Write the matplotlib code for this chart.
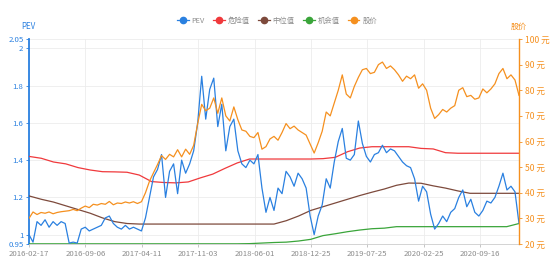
import numpy as np
import matplotlib
matplotlib.use("Agg")
import matplotlib.pyplot as plt
from matplotlib.lines import Line2D

plt.rcParams['font.family'] = ['Noto Sans CJK SC', 'DejaVu Sans']

# ---------------- data ----------------
n_days = 1174
tick_step = 135
date_labels = ["2016-02-17", "2016-09-06", "2017-04-11", "2017-11-03", "2018-06-01",
               "2018-12-25", "2019-07-25", "2020-02-25", "2020-09-16"]

pev = [1.00, 0.96, 1.07, 1.05, 1.08, 1.04, 1.07, 1.05, 1.07, 1.06,
       0.955, 0.96, 0.955, 1.03, 1.04, 1.02, 1.03, 1.04, 1.05, 1.09,
       1.10, 1.06, 1.04, 1.03, 1.05, 1.03, 1.04, 1.03, 1.02, 1.09,
       1.20, 1.31, 1.35, 1.43, 1.20, 1.34, 1.38, 1.22, 1.40, 1.33,
       1.38, 1.45, 1.60, 1.85, 1.62, 1.78, 1.84, 1.58, 1.70, 1.45,
       1.58, 1.62, 1.45, 1.38, 1.36, 1.40, 1.38, 1.43, 1.25, 1.12,
       1.20, 1.13, 1.25, 1.22, 1.34, 1.31, 1.26, 1.33, 1.30, 1.25,
       1.10, 1.00, 1.10, 1.16, 1.30, 1.25, 1.39, 1.50, 1.57, 1.41,
       1.40, 1.43, 1.61, 1.49, 1.42, 1.39, 1.43, 1.44, 1.48, 1.44,
       1.46, 1.45, 1.42, 1.39, 1.37, 1.36, 1.30, 1.18, 1.26, 1.23,
       1.11, 1.03, 1.06, 1.10, 1.07, 1.12, 1.14, 1.20, 1.24, 1.15,
       1.19, 1.12, 1.10, 1.13, 1.18, 1.17, 1.20, 1.26, 1.33, 1.24,
       1.26, 1.23, 1.06]

price = [30.0, 32.5, 31.5, 32.3, 32.0, 32.5, 31.8, 32.3, 32.6, 32.8,
         33.0, 33.5, 33.0, 34.0, 34.8, 34.2, 35.5, 35.2, 35.8, 35.5,
         36.6, 35.3, 36.0, 35.8, 36.4, 36.0, 36.5, 35.8, 36.5, 40.0,
         44.5, 47.8, 51.0, 54.5, 53.0, 55.0, 54.0, 56.8, 54.0, 57.0,
         55.0, 58.5, 67.0, 74.5, 72.0, 73.0, 77.0, 71.0, 77.0, 70.0,
         68.0, 73.5, 68.5, 64.5, 64.0, 62.0, 61.5, 63.5, 57.0, 58.0,
         61.0, 62.0, 60.5, 63.5, 67.0, 65.0, 66.0, 64.5, 63.5, 62.5,
         59.0, 55.5, 59.5, 64.0, 71.5, 70.0, 75.0, 80.0, 86.0, 78.5,
         77.0, 81.5, 85.0, 88.0, 88.5, 86.5, 87.0, 90.0, 91.0, 88.5,
         89.5, 88.0, 86.0, 83.5, 85.5, 84.5, 86.0, 80.8, 82.5, 80.0,
         73.0, 69.0, 70.5, 72.5, 71.5, 73.0, 74.0, 80.0, 81.0, 77.5,
         78.0, 76.5, 77.0, 80.5, 79.0, 80.5, 82.5, 86.5, 88.5, 84.5,
         86.0, 84.0, 78.0]

danger = [1.42, 1.41, 1.39, 1.38, 1.36, 1.347, 1.338, 1.337, 1.335, 1.32,
          1.285, 1.28, 1.278, 1.283, 1.305, 1.325, 1.356, 1.385, 1.406, 1.406,
          1.406, 1.406, 1.406, 1.406, 1.408, 1.415, 1.445, 1.465, 1.472, 1.472,
          1.472, 1.472, 1.463, 1.46, 1.44, 1.437, 1.437, 1.437, 1.437, 1.437,
          1.437]

median = [1.208, 1.19, 1.175, 1.155, 1.135, 1.115, 1.09, 1.07, 1.06, 1.057,
          1.057, 1.057, 1.057, 1.057, 1.057, 1.057, 1.057, 1.057, 1.057, 1.057,
          1.057, 1.075, 1.10, 1.13, 1.15, 1.17, 1.19, 1.21, 1.228, 1.245,
          1.265, 1.277, 1.276, 1.262, 1.25, 1.235, 1.222, 1.222, 1.222, 1.222,
          1.222]

chance = [0.951, 0.951, 0.951, 0.951, 0.951, 0.951, 0.951, 0.951, 0.951, 0.951,
          0.951, 0.951, 0.951, 0.951, 0.951, 0.951, 0.951, 0.951, 0.952, 0.955,
          0.958, 0.96, 0.966, 0.975, 0.995, 1.005, 1.016, 1.025, 1.032, 1.035,
          1.043, 1.043, 1.043, 1.043, 1.043, 1.043, 1.043, 1.043, 1.043, 1.043,
          1.06]

pev_ticks = [0.95, 1.0, 1.2, 1.4, 1.6, 1.8, 2.0, 2.05]
pev_tick_labels = ["0.95", "1", "1.2", "1.4", "1.6", "1.8", "2", "2.05"]
price_ticks = [20, 30, 40, 50, 60, 70, 80, 90, 100]

C_BLUE = '#2a80e0'
C_RED = '#f0393c'
C_BROWN = '#7d4a3c'
C_GREEN = '#3aa53a'
C_ORANGE = '#f5901f'
C_GRAY = '#8c8c8c'
C_GRID = '#ececec'

# ---------------- figure ----------------
fig = plt.figure(figsize=(5.54, 2.61), dpi=100)
ax = fig.add_axes([29/554, 1-244/261, 490/554, 205/261])
ax2 = ax.twinx()

def xs(arr):
    return np.linspace(0, n_days - 1, len(arr))

lw = 0.9
ax.plot(xs(danger), danger, color=C_RED, lw=lw, zorder=3)
ax.plot(xs(median), median, color=C_BROWN, lw=lw, zorder=3)
ax.plot(xs(chance), chance, color=C_GREEN, lw=lw, zorder=3)
ax.plot(xs(pev), pev, color=C_BLUE, lw=lw, zorder=5)
ax2.plot(xs(price), price, color=C_ORANGE, lw=lw, zorder=4)

ax.set_xlim(0, n_days - 1)
ax.set_ylim(0.95, 2.05)
ax2.set_ylim(20, 100)

xt = [i * tick_step for i in range(len(date_labels))]
ax.set_xticks(xt)
ax.set_xticklabels(date_labels, fontsize=5.6, color=C_GRAY)
ax.set_yticks(pev_ticks)
ax.set_yticklabels(pev_tick_labels, fontsize=5.6, color=C_BLUE)
ax2.set_yticks(price_ticks)
ax2.set_yticklabels([f"{p} 元" for p in price_ticks], fontsize=6.2, color=C_ORANGE)

ax.grid(True, color=C_GRID, lw=0.6, zorder=0)
ax.set_axisbelow(True)

for a in (ax, ax2):
    a.spines['top'].set_visible(False)
ax.spines['right'].set_visible(False)
ax.spines['left'].set_color(C_BLUE)
ax.spines['left'].set_linewidth(1.3)
ax.spines['bottom'].set_color('#cccccc')
ax.spines['bottom'].set_linewidth(0.6)
ax2.spines['left'].set_visible(False)
ax2.spines['bottom'].set_visible(False)
ax2.spines['right'].set_color(C_ORANGE)
ax2.spines['right'].set_linewidth(1.0)

ax.tick_params(axis='y', length=2.5, width=0.6, color=C_BLUE, pad=1.5)
ax.tick_params(axis='x', length=2.5, width=0.6, color='#bbbbbb', pad=1.5)
ax2.tick_params(axis='y', length=2.5, width=0.6, color=C_ORANGE, pad=2)

ax.text(-0.002, 1.062, "PEV", transform=ax.transAxes, fontsize=5.8,
        color=C_BLUE, ha='center', va='center')
ax.text(1.0, 1.062, "股价", transform=ax.transAxes, fontsize=5.8,
        color=C_ORANGE, ha='center', va='center')

handles = [Line2D([], [], color=c, lw=0.9, marker='o', markersize=4.5)
           for c in (C_BLUE, C_RED, C_BROWN, C_GREEN, C_ORANGE)]
labels = ["PEV", "危险值", "中位值", "机会值", "股价"]
leg = fig.legend(handles, labels, loc='center', bbox_to_anchor=(0.5, 1 - 21/261),
                 ncol=5, frameon=False, fontsize=5.3, handlelength=1.6,
                 handletextpad=0.4, columnspacing=1.1, borderaxespad=0)
for t in leg.get_texts():
    t.set_color(C_GRAY)

fig.savefig("out.png", dpi=100)
